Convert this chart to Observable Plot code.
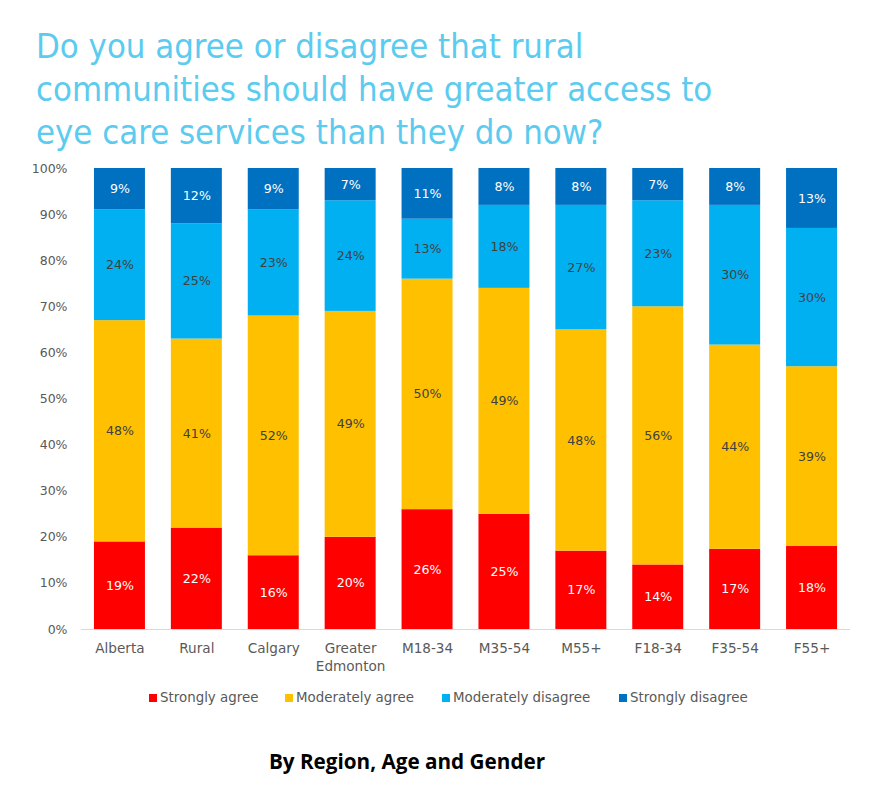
<!DOCTYPE html>
<html>
<head>
<meta charset="utf-8">
<script src="https://cdn.jsdelivr.net/npm/d3@7"></script>
<script src="https://cdn.jsdelivr.net/npm/@observablehq/plot@0.6"></script>
<style>
  html, body { margin: 0; padding: 0; background: #fff; }
  #wrap { position: relative; width: 881px; height: 807px; overflow: hidden; font-family: "DejaVu Sans", sans-serif; }
  #title { position: absolute; left: 36px; top: 25px; width: 800px; color: #5BCBEF;
           font-family: "DejaVu Sans Condensed", "DejaVu Sans", sans-serif; font-size: 34.4px; line-height: 43px; }
  #chart { position: absolute; left: 0; top: 150px; }
  #legend { position: absolute; left: 0; top: 690px; width: 881px; text-align: left; font-size: 13.4px; color: #595959; }
  .item { position: absolute; top: 0; white-space: nowrap; }
  .sw { display: inline-block; width: 8px; height: 8px; margin-right: 3px; vertical-align: 0px; }
  #caption { position: absolute; left: 0; width: 814px; top: 747px; text-align: center;
             font-family: "Open Sans", sans-serif; font-weight: 700; font-size: 20.7px; color: #000; }
</style>
</head>
<body>
<div id="wrap">
  <div id="title">Do you agree or disagree that rural<br>communities should have greater access to<br>eye care services than they do now?</div>
  <div id="chart"></div>
  <div id="legend"></div>
  <div id="caption">By Region, Age and Gender</div>
</div>
<script>
// Survey groups along the x axis
const categories = ["Alberta", "Rural", "Calgary", "Greater Edmonton", "M18-34", "M35-54", "M55+", "F18-34", "F35-54", "F55+"];

// Response shares (percent), one array per answer
const seriesNames = ["Strongly agree", "Moderately agree", "Moderately disagree", "Strongly disagree"];
const stronglyAgree      = [19, 22, 16, 20, 26, 25, 17, 14, 17.4, 18];
const moderatelyAgree    = [48, 41, 52, 49, 50, 49, 48, 56, 44.3, 39];
const moderatelyDisagree = [24, 25, 23, 24, 13, 18, 27, 23, 30.3, 30];
const stronglyDisagree   = [9, 12, 9, 7, 11, 8, 8, 7, 8, 13];

const yTicks = [0, 10, 20, 30, 40, 50, 60, 70, 80, 90, 100];
const colors = ["#FF0000", "#FFC000", "#00B0F0", "#0070C0"];

const valuesBySeries = [stronglyAgree, moderatelyAgree, moderatelyDisagree, stronglyDisagree];
const rows = [];
seriesNames.forEach((s, si) => {
  categories.forEach((c, ci) => rows.push({category: c, series: s, value: valuesBySeries[si][ci]}));
});

const lightText = new Set(["Strongly agree", "Strongly disagree"]);
const stack = {x: "category", y: "value", z: "series", text: d => Math.round(d.value) + "%"};

const chart = Plot.plot({
  width: 881,
  height: 530,
  marginLeft: 81,
  marginRight: 31,
  marginTop: 18,
  marginBottom: 51,
  style: {fontFamily: "DejaVu Sans, sans-serif", fontSize: "12px", background: "transparent"},
  x: {domain: categories, paddingInner: 0.337, paddingOuter: 0.1685, round: false, label: null},
  y: {domain: [0, 100], label: null},
  color: {domain: seriesNames, range: colors},
  marks: [
    Plot.barY(rows, {x: "category", y: "value", fill: "series", z: "series"}),
    Plot.ruleY([0], {stroke: "#D9D9D9", strokeWidth: 1}),
    Plot.axisY({ticks: yTicks, tickSize: 0, tickPadding: 14, tickFormat: d => d + "%", fill: "#595959", fontSize: 12.5}),
    Plot.axisX({tickSize: 0, tickPadding: 11, tickFormat: d => d.replace(" ", "\n"), fill: "#595959", fontSize: 13.6, lineHeight: 1.3}),
    Plot.text(rows, Plot.filter(d => lightText.has(d.series), Plot.stackY({...stack, fill: "white", fontSize: 12.6}))),
    Plot.text(rows, Plot.filter(d => !lightText.has(d.series), Plot.stackY({...stack, fill: "#404040", fontSize: 12.6})))
  ]
});
document.getElementById("chart").appendChild(chart);

// Legend
const legendX = [149, 285, 442, 619];
const legend = document.getElementById("legend");
seriesNames.forEach((s, i) => {
  const item = document.createElement("span");
  item.className = "item";
  item.style.left = legendX[i] + "px";
  item.innerHTML = `<span class="sw" style="background:${colors[i]}"></span>${s}`;
  legend.appendChild(item);
});
</script>
</body>
</html>
